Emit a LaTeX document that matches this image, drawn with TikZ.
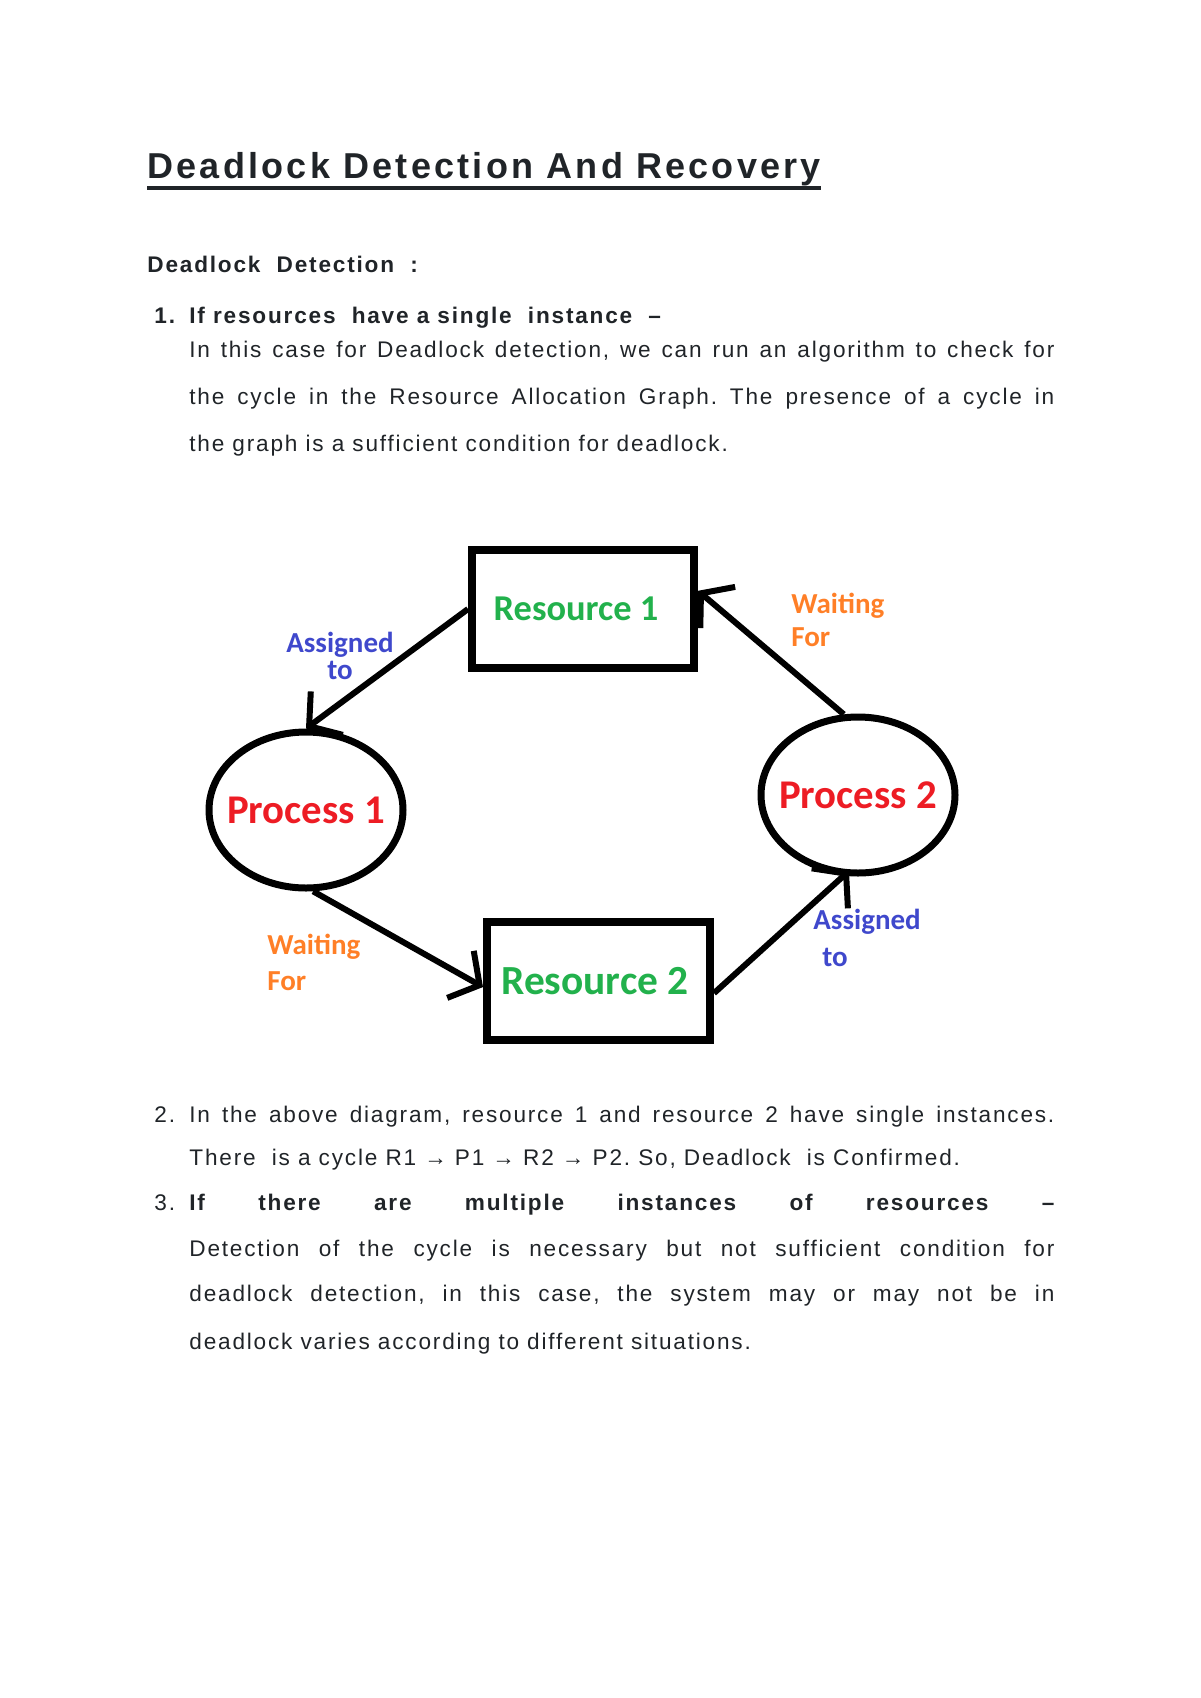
\documentclass[tikz,border=0pt]{standalone}
\usepackage{fontspec}
\setmainfont{Liberation Sans}[LetterSpace=8]
\newfontfamily\paintfont{Carlito}
\usetikzlibrary{arrows.meta,shapes.geometric}
\definecolor{ink}{RGB}{32,36,40}
\definecolor{pgreen}{HTML}{22B14C}
\definecolor{pred}{HTML}{ED1C24}
\definecolor{porange}{HTML}{FF7F27}
\definecolor{pblue}{HTML}{3F48CC}
\newcommand{\jline}[1]{\makebox[432.5pt][s]{#1}}
\frenchspacing

\begin{document}
\begin{tikzpicture}[x=0.5pt,y=-0.5pt,
  txt/.style={anchor=base west,inner sep=0pt,text=ink,font=\fontsize{11.3}{13}\selectfont},
  btxt/.style={txt,font=\bfseries\fontsize{11.3}{13}\selectfont},
  res/.style={draw,line width=4pt,minimum width=111pt,minimum height=59pt,inner sep=0pt,text=pgreen},
  proc/.style={draw,ellipse,line width=3.5pt,minimum width=97pt,minimum height=78pt,inner sep=0pt,text=pred,
    font=\paintfont\bfseries\fontsize{20.4}{23}\selectfont},
  lbl/.style={inner sep=0pt,font=\paintfont\bfseries\fontsize{14.5}{16.5}\selectfont},
  edge/.style={line width=3pt,-{Straight Barb[length=11pt,width=27pt]}}]
  \useasboundingbox (0,0) rectangle (1200,1698);
  % heading
  \node[txt,font=\bfseries\fontsize{18}{21}\selectfont\addfontfeature{LetterSpace=9}] (title) at (147,178) {Deadlock Detection And Recovery};
  \draw[ink,line width=2.2pt] ([yshift=-5pt]title.base west) -- ([yshift=-5pt]title.base east);
  \node[btxt] (sub) at (147,272) {Deadlock\ \ Detection\ \ :};

  % point 1
  \node[btxt] (n1) at (154,323) {1.};
  \node[btxt] (p1head) at (189,323) {If resources\ \ have a single\ \ instance\ \ –};
  \node[txt] (p1a) at (189,357) {\jline{In this case for Deadlock detection, we can run an algorithm to check for}};
  \node[txt] (p1b) at (189,404) {\jline{the cycle in the Resource Allocation Graph. The presence of a cycle in}};
  \node[txt] (p1c) at (189,451) {the graph is a sufficient condition for deadlock.};

  % the graph
  \node[res,font=\paintfont\bfseries\fontsize{18.2}{21}\selectfont] (r1) at (583,609) {Resource 1\hspace*{7pt}};
  \node[res,minimum width=111.5pt,font=\paintfont\bfseries\fontsize{20.7}{23}\selectfont] (r2) at (598.5,981) {Resource 2\hspace*{3.5pt}};
  \node[proc] (p1) at (306,810) {\makebox[0pt]{Process 1}};
  \node[proc] (p2) at (858,795) {\makebox[0pt]{Process 2}};

  \draw[edge] (r1.west) -- (p1.north);
  \draw[edge] (p2.100) -- (r1.9);
  \draw[edge] (p1.-85) -- (r2.183);
  \draw[edge,shorten >=-3.5pt] (r2.-6) -- (p2.-100);

  \node[lbl,text=pblue,align=center,anchor=base] (as1) at (340,679) {Assigned\\[-3pt]to};
  \node[lbl,text=porange,align=left,anchor=base west] (wf1) at (791,646) {Waiting\\For};
  \node[lbl,text=porange,align=left,anchor=base west] (wf2) at (267,990) {Waiting\\[1.5pt]For};
  \node[lbl,text=pblue,align=left,anchor=base west] (as2) at (813,966) {Assigned\\[2pt]\hspace*{4.5pt}to};

  % points 2 and 3
  \node[txt] (n2) at (154,1122) {2.};
  \node[txt] (p2a) at (189,1122) {\jline{In the above diagram, resource 1 and resource 2 have single instances.}};
  \node[txt] (p2b) at (189,1165) {There\ \ is a cycle R1 → P1 → R2 → P2. So, Deadlock\ \ is Confirmed.};
  \node[txt] (n3) at (154,1210) {3.};
  \node[btxt] (p3head) at (189,1210) {\jline{If there are multiple instances of resources –}};
  \node[txt] (p3a) at (189,1256) {\jline{Detection of the cycle is necessary but not sufficient condition for}};
  \node[txt] (p3b) at (189,1301) {\jline{deadlock detection, in this case, the system may or may not be in}};
  \node[txt] (p3c) at (189,1349) {deadlock varies according to different situations.};
\end{tikzpicture}
\end{document}
